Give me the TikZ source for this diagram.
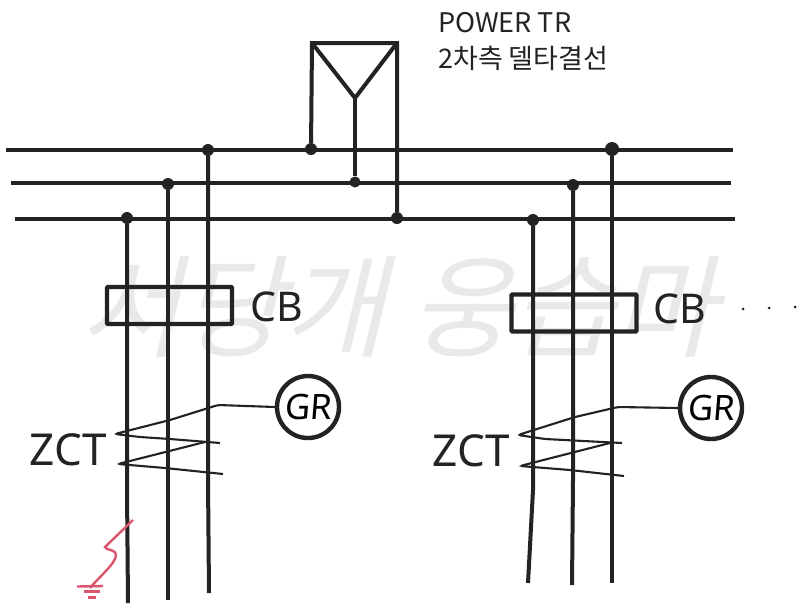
\documentclass[tikz,border=0pt]{standalone}
\usepackage{fontspec}
\setmainfont{Noto Sans}
\newfontfamily\krfont{Noto Sans CJK KR}
\usepackage{tikz}
\usetikzlibrary{calc}
\definecolor{inkblack}{HTML}{232323}
\definecolor{markgray}{HTML}{E9E9E9}
\definecolor{faultred}{HTML}{D9566E}
\tikzset{
  x=1pt,y=-1pt,
  busline/.style={draw=inkblack,line width=4pt},
  coilline/.style={draw=inkblack,line width=2.1pt,rounded corners=3pt},
  junction/.style={shape=circle,fill=inkblack,draw=none,inner sep=0pt,minimum size=12pt},
  cbbox/.style={shape=rectangle,draw=inkblack,line width=4.4pt,inner sep=0pt,fill=none,rounded corners=1pt},
  grcircle/.style={shape=circle,draw=inkblack,line width=4.4pt,fill=white,inner sep=0pt,minimum size=62pt,font=\fontsize{35}{35}\selectfont\addfontfeatures{FakeSlant=0.08}},
  bigtext/.style={inner sep=0pt,text=inkblack,font=\fontsize{44}{44}\selectfont},
  cbtext/.style={inner sep=0pt,text=inkblack,font=\fontsize{41}{41}\selectfont},
  toptext/.style={inner sep=0pt,anchor=west,text=inkblack,font=\krfont\fontsize{27}{27}\selectfont},
  faultline/.style={draw=faultred,line width=2.4pt},
  speck/.style={shape=circle,fill=inkblack,draw=none,inner sep=0pt,minimum size=3pt}
}
% breaker box: name, x and y of the centre
\newcommand{\feederbox}[3]{\node[cbbox,minimum width=125pt,minimum height=37pt] (#1) at ( #2 , #3 ) {};}
\begin{document}
\begin{tikzpicture}
\useasboundingbox (0,0) rectangle (800,611);
\fill[white] (0,0) rectangle (800,611);
% watermark
\node[inner sep=0pt,text=markgray,font=\krfont\fontsize{111}{111}\selectfont,xslant=0.24] (mark) at (408,307) {서당개 웅습마};
% bus ends
\coordinate (b1l) at (6,150);
\coordinate (b1r) at (733,150);
\coordinate (b2l) at (11,183);
\coordinate (b2r) at (731,183);
\coordinate (b3l) at (15,219);
\coordinate (b3r) at (735,219);
% junctions
\node[junction] (tr1) at (311,149) {};
\node[junction,minimum size=11pt] (tr2) at (355,182) {};
\node[junction] (tr3) at (397,218) {};
\node[junction] (la) at (127,218) {};
\node[junction] (lb) at (168,184) {};
\node[junction] (lc) at (208,150) {};
\node[junction] (ra) at (533,220) {};
\node[junction] (rb) at (573,185) {};
\node[junction,minimum width=14pt] (rc) at (612,149) {};
% feet of the poles
\coordinate (lafoot) at (128,603);
\coordinate (lbfoot) at (168,600);
\coordinate (lcfoot) at (209,593);
\coordinate (rafoot) at (528,583);
\coordinate (rbfoot) at (572,585);
\coordinate (rcfoot) at (612,583);
% buses
\draw[busline] (b1l) -- (b1r);
\draw[busline] (b2l) -- (b2r);
\draw[busline] (b3l) -- (b3r);
% poles
\draw[busline] (la) -- (127,490) -- (lafoot);
\draw[busline] (lb) -- (lbfoot);
\draw[busline] (lc) -- (208,480) -- (lcfoot);
\draw[busline] (ra) -- (533,490) -- (rafoot);
\draw[busline] (rb) -- (573,480) -- (rbfoot);
\draw[busline] (rc) -- (rcfoot);
% power tr
\coordinate (trl) at (312,43);
\coordinate (trr) at (397,43);
\coordinate (trm) at (355,98);
\draw[busline] (tr1) -- (trl) -- (trr) -- (tr3);
\draw[busline] (trl) -- (trm) -- (trr);
\draw[busline] (trm) -- (tr2);
\node[toptext] (trname) at (438,23) {POWER TR};
\node[toptext] (trnote) at (438,58) {2차측 델타결선};
% cb
\feederbox{cbl}{169.5}{305.5}
\feederbox{cbr}{574}{313}
\node[cbtext] (cbltext) at (277,307) {CB};
\node[cbtext] (cbrtext) at (680,309) {CB};
% zct
\node[bigtext] (zctl) at (68,450) {ZCT};
\node[bigtext] (zctr) at (471,451) {ZCT};
% gr
\node[grcircle] (grl) at (308,407) {GR};
\node[grcircle] (grr) at (711,408) {GR};
% left coil
\draw[coilline] (grl.west) -- (218,405) -- (170,420) -- (115,434) -- (140,437) -- (170,439) -- (220,443);
\draw[coilline] (205,442) -- (118,464) -- (165,468) -- (223,474);
% right coil
\draw[coilline] (grr.west) -- (618,407) -- (575,417) -- (518,435) -- (545,439) -- (622,443);
\draw[coilline] (610,443) -- (520,466) -- (570,470) -- (624,476);
% fault
\draw[faultline] (133,520) -- (105,547) .. controls (106,551) and (116,548) .. (116,556) .. controls (114,565) and (100,576) .. (90,588);
\draw[faultline] (77,586.5) -- (103,586);
\draw[faultline] (84,591.5) -- (100,591.5);
\draw[faultline] (88,597.5) -- (96,597.5);
% specks
\node[speck] (s1) at (743,309) {};
\node[speck] (s2) at (769,308) {};
\node[speck] (s3) at (795,307) {};
\end{tikzpicture}
\end{document}
